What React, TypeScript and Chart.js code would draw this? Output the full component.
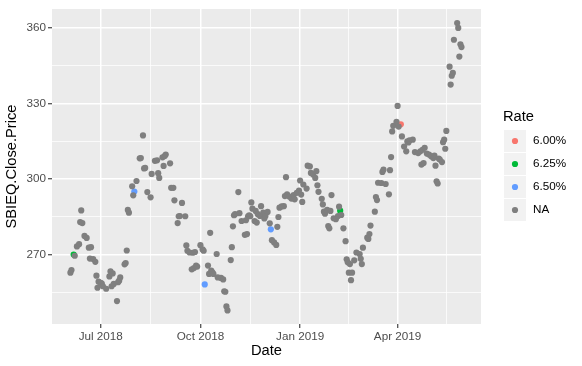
import React, { useEffect, useRef } from 'react';
import { Chart, registerables } from 'chart.js';

Chart.register(...registerables);

const dates: string[] = [
  '2018-06-03','2018-06-04','2018-06-06','2018-06-07','2018-06-09','2018-06-11','2018-06-12','2018-06-13','2018-06-14','2018-06-16',
  '2018-06-18','2018-06-20','2018-06-21','2018-06-22','2018-06-24','2018-06-26','2018-06-27','2018-06-28','2018-06-29','2018-07-01',
  '2018-07-02','2018-07-03','2018-07-06','2018-07-09','2018-07-10','2018-07-11','2018-07-12','2018-07-13','2018-07-16','2018-07-17',
  '2018-07-18','2018-07-19','2018-07-23','2018-07-24','2018-07-25','2018-07-26','2018-07-27','2018-07-30','2018-07-31','2018-08-01',
  '2018-08-03','2018-08-06','2018-08-07','2018-08-09','2018-08-10','2018-08-11','2018-08-13','2018-08-16','2018-08-17','2018-08-20',
  '2018-08-22','2018-08-23','2018-08-24','2018-08-27','2018-08-28','2018-08-29','2018-08-30','2018-09-03','2018-09-04','2018-09-06',
  '2018-09-07','2018-09-10','2018-09-11','2018-09-12','2018-09-14','2018-09-17','2018-09-18','2018-09-19','2018-09-21','2018-09-23',
  '2018-09-24','2018-09-25','2018-09-26','2018-09-27','2018-09-28','2018-10-01','2018-10-03','2018-10-04','2018-10-05','2018-10-08',
  '2018-10-09','2018-10-10','2018-10-11','2018-10-12','2018-10-13','2018-10-16','2018-10-17','2018-10-20','2018-10-22','2018-10-23',
  '2018-10-24','2018-10-25','2018-10-26','2018-10-29','2018-10-30','2018-10-31','2018-11-01','2018-11-02','2018-11-05','2018-11-06',
  '2018-11-08','2018-11-11','2018-11-12','2018-11-13','2018-11-14','2018-11-15','2018-11-16','2018-11-17','2018-11-18','2018-11-20',
  '2018-11-21','2018-11-22','2018-11-23','2018-11-25','2018-11-26','2018-11-28','2018-11-29','2018-11-30','2018-12-02','2018-12-04',
  '2018-12-05','2018-12-06','2018-12-08','2018-12-10','2018-12-11','2018-12-12','2018-12-13','2018-12-15','2018-12-17','2018-12-18',
  '2018-12-19','2018-12-20','2018-12-22','2018-12-24','2018-12-26','2018-12-27','2018-12-29','2018-12-31','2019-01-01','2019-01-02',
  '2019-01-03','2019-01-04','2019-01-07','2019-01-08','2019-01-10','2019-01-11','2019-01-13','2019-01-15','2019-01-16','2019-01-17',
  '2019-01-18','2019-01-21','2019-01-22','2019-01-23','2019-01-24','2019-01-26','2019-01-27','2019-01-28','2019-01-29','2019-01-30',
  '2019-02-01','2019-02-03','2019-02-05','2019-02-06','2019-02-07','2019-02-08','2019-02-10','2019-02-12','2019-02-13','2019-02-14',
  '2019-02-15','2019-02-16','2019-02-17','2019-02-18','2019-02-20','2019-02-22','2019-02-25','2019-02-26','2019-02-27','2019-02-28',
  '2019-03-04','2019-03-05','2019-03-06','2019-03-07','2019-03-11','2019-03-12','2019-03-13','2019-03-14','2019-03-17','2019-03-18',
  '2019-03-19','2019-03-21','2019-03-24','2019-03-25','2019-03-26','2019-03-27','2019-03-28','2019-03-31','2019-04-01','2019-04-02',
  '2019-04-04','2019-04-05','2019-04-07','2019-04-09','2019-04-10','2019-04-11','2019-04-12','2019-04-15','2019-04-17','2019-04-20',
  '2019-04-22','2019-04-23','2019-04-24','2019-04-25','2019-04-26','2019-04-28','2019-04-30','2019-05-02','2019-05-04','2019-05-05',
  '2019-05-06','2019-05-07','2019-05-08','2019-05-09','2019-05-10','2019-05-12','2019-05-13','2019-05-14','2019-05-15','2019-05-16',
  '2019-05-19','2019-05-20','2019-05-21','2019-05-22','2019-05-23','2019-05-26','2019-05-27','2019-05-28','2019-05-29','2019-05-30',
];

const closes: number[] = [
  262.9, 263.9, 270.1, 269.6, 273.3, 274.2, 283.0, 287.6, 282.6, 277.5,
  276.7, 272.8, 268.5, 273.0, 268.3, 267.2, 261.7, 256.9, 259.3, 258.8,
  258.5, 257.5, 256.5, 261.4, 263.4, 257.5, 262.6, 258.4, 251.6, 259.1,
  259.7, 261.0, 266.2, 266.7, 271.7, 287.8, 286.7, 297.2, 293.6, 295.1,
  299.3, 308.3, 308.4, 317.4, 304.3, 304.5, 294.9, 292.8, 302.1, 307.3,
  307.5, 302.4, 300.5, 308.7, 305.3, 309.2, 309.8, 306.3, 296.6, 296.6,
  291.6, 282.6, 285.3, 285.4, 290.6, 285.3, 273.7, 271.6, 270.9, 264.2,
  270.8, 264.7, 271.1, 265.7, 265.3, 273.8, 272.1, 271.6, 258.2, 265.7,
  262.4, 278.7, 263.7, 263.0, 262.4, 270.3, 261.0, 260.8, 260.2, 255.5,
  255.3, 249.5, 247.9, 267.9, 273.0, 281.3, 285.7, 286.1, 294.9, 286.5,
  283.4, 277.9, 283.7, 278.2, 285.3, 285.7, 285.3, 290.8, 288.3, 283.4,
  287.4, 282.8, 286.1, 285.4, 289.3, 286.7, 284.4, 285.4, 287.0, 282.5,
  280.1, 275.8, 274.9, 273.9, 281.1, 285.0, 288.7, 289.2, 289.3, 293.3,
  300.8, 294.0, 293.1, 292.3, 293.7, 292.0, 294.6, 295.5, 299.5, 293.9,
  291.0, 297.9, 296.3, 305.4, 305.1, 302.5, 301.9, 300.5, 303.2, 297.6,
  295.0, 292.2, 290.0, 287.1, 286.3, 287.8, 281.4, 280.5, 287.4, 293.7,
  284.5, 284.1, 285.4, 289.1, 287.5, 285.8, 280.5, 275.4, 268.2, 267.0,
  262.9, 266.3, 259.9, 262.9, 267.8, 270.9, 270.3, 268.4, 266.3, 272.8,
  276.8, 276.3, 278.2, 281.6, 287.1, 292.9, 291.7, 298.6, 298.5, 302.9,
  303.8, 298.1, 294.0, 303.6, 308.8, 319.0, 321.2, 322.8, 329.1, 320.9,
  321.8, 317.0, 313.0, 311.1, 315.0, 314.6, 315.4, 315.7, 310.8, 310.4,
  311.1, 305.8, 311.7, 306.4, 312.5, 310.2, 309.8, 309.1, 308.4, 309.4,
  305.4, 299.2, 298.3, 308.2, 307.8, 306.8, 314.7, 315.7, 312.1, 319.2,
  344.7, 337.6, 341.1, 342.2, 355.4, 362.0, 360.1, 348.7, 353.6, 352.5,
];

// policy-rate decision days (other days are NA)
const rateDates: string[] = ['2018-06-06', '2018-08-01', '2018-10-05', '2018-12-05', '2019-02-07', '2019-04-04'];
const rateLevels: string[] = ['6.25%', '6.50%', '6.50%', '6.50%', '6.25%', '6.00%'];

const legendLabels: string[] = ['6.00%', '6.25%', '6.50%', 'NA'];
const legendColors: string[] = ['#F8766D', '#00BA38', '#619CFF', '#7F7F7F'];

const xTickDates: string[] = ['2018-07-01', '2018-10-01', '2019-01-01', '2019-04-01'];
const xTickLabels: string[] = ['Jul 2018', 'Oct 2018', 'Jan 2019', 'Apr 2019'];
const xMinorDates: string[] = ['2018-08-16', '2018-11-16', '2019-02-15', '2019-05-16'];
const xRange: string[] = ['2018-05-17', '2019-06-17'];

const yTicks: number[] = [270, 300, 330, 360];
const yMinorTicks: number[] = [255, 285, 315, 345];
const yRange: number[] = [242.5, 367.6];

const FONT = '"Liberation Sans", Arial, Helvetica, sans-serif';
const ts = (s: string) => new Date(s + 'T00:00:00Z').getTime();

export default function App() {
  const ref = useRef<HTMLCanvasElement | null>(null);

  useEffect(() => {
    if (!ref.current) return;
    const majorX = xTickDates.map(ts);
    const minorX = xMinorDates.map(ts);

    const rateOf = (d: string) => {
      const i = rateDates.indexOf(d);
      return i >= 0 ? rateLevels[i] : 'NA';
    };
    const order = ['NA', '6.00%', '6.25%', '6.50%'];
    const datasets = order.map((lvl) => {
      const pts = dates
        .map((d, i) => ({ d, x: ts(d), y: closes[i] }))
        .filter((p) => rateOf(p.d) === lvl)
        .map((p) => ({ x: p.x, y: p.y }));
      const color = legendColors[legendLabels.indexOf(lvl)];
      return {
        type: 'scatter' as const,
        label: lvl,
        data: pts,
        backgroundColor: color,
        borderWidth: 0,
        pointRadius: 3.1,
        pointHoverRadius: 3.1,
        showLine: false,
      };
    });

    const bgPlugin = {
      id: 'bg',
      beforeDraw(chart: any) {
        const { ctx, chartArea } = chart;
        ctx.save();
        ctx.fillStyle = '#FFFFFF';
        ctx.fillRect(0, 0, chart.width, chart.height);
        ctx.fillStyle = '#EBEBEB';
        ctx.fillRect(chartArea.left, chartArea.top, chartArea.right - chartArea.left, chartArea.bottom - chartArea.top);
        ctx.restore();
      },
    };

    const legendPlugin = {
      id: 'ggLegend',
      afterDraw(chart: any) {
        const ctx = chart.ctx;
        ctx.save();
        ctx.textBaseline = 'middle';
        ctx.textAlign = 'left';
        ctx.fillStyle = '#000000';
        ctx.font = `14.7px ${FONT}`;
        ctx.fillText('Rate', 503, 117);
        legendLabels.forEach((lab, i) => {
          const cy = 141 + i * 23;
          ctx.fillStyle = '#F2F2F2';
          ctx.fillRect(504, cy - 11, 22, 22);
          ctx.fillStyle = legendColors[i];
          ctx.beginPath();
          ctx.arc(515, cy, 3.1, 0, Math.PI * 2);
          ctx.fill();
          ctx.fillStyle = '#000000';
          ctx.font = `11.7px ${FONT}`;
          ctx.fillText(lab, 533, cy);
        });
        ctx.restore();
      },
    };

    const chart = new Chart(ref.current, {
      type: 'scatter',
      data: { datasets },
      options: {
        animation: false,
        responsive: false,
        maintainAspectRatio: false,
        events: [],
        layout: { padding: { top: 7, right: 101, left: 0, bottom: 0 } },
        plugins: { legend: { display: false }, tooltip: { enabled: false } },
        scales: {
          x: {
            type: 'linear',
            min: ts(xRange[0]),
            max: ts(xRange[1]),
            afterBuildTicks: (s: any) => {
              s.ticks = [...majorX, ...minorX].sort((a, b) => a - b).map((v) => ({ value: v }));
            },
            afterFit: (s: any) => {
              s.height = 42;
            },
            ticks: {
              autoSkip: false,
              maxRotation: 0,
              minRotation: 0,
              padding: 2,
              color: '#4D4D4D',
              font: { family: FONT, size: 11.7 },
              callback: (v: any) => {
                const i = majorX.indexOf(Number(v));
                return i >= 0 ? xTickLabels[i] : '';
              },
            },
            grid: {
              color: '#FFFFFF',
              lineWidth: (c: any) => (c.tick && majorX.includes(c.tick.value) ? 1.5 : 0.75),
              tickColor: (c: any) => (c.tick && majorX.includes(c.tick.value) ? '#333333' : 'rgba(0,0,0,0)'),
              tickLength: 4,
              tickWidth: 1.1,
            },
            border: { display: false },
            title: {
              display: true,
              text: 'Date',
              color: '#000000',
              font: { family: FONT, size: 14.7 },
              padding: { top: 0, bottom: 6 },
            },
          },
          y: {
            type: 'linear',
            min: yRange[0],
            max: yRange[1],
            afterBuildTicks: (s: any) => {
              s.ticks = [...yTicks, ...yMinorTicks].sort((a, b) => a - b).map((v) => ({ value: v }));
            },
            afterFit: (s: any) => {
              s.width = 52;
            },
            ticks: {
              autoSkip: false,
              padding: 2,
              color: '#4D4D4D',
              font: { family: FONT, size: 11.7 },
              callback: (v: any) => (yTicks.includes(Number(v)) ? String(v) : ''),
            },
            grid: {
              color: '#FFFFFF',
              lineWidth: (c: any) => (c.tick && yTicks.includes(c.tick.value) ? 1.5 : 0.75),
              tickColor: (c: any) => (c.tick && yTicks.includes(c.tick.value) ? '#333333' : 'rgba(0,0,0,0)'),
              tickLength: 4,
              tickWidth: 1.1,
            },
            border: { display: false },
            title: {
              display: true,
              text: 'SBIEQ.Close.Price',
              color: '#000000',
              font: { family: FONT, size: 14.7 },
              padding: { top: 3, bottom: 0 },
            },
          },
        },
      } as any,
      plugins: [bgPlugin, legendPlugin],
    });

    return () => chart.destroy();
  }, []);

  return (
    <div style={{ position: 'absolute', left: 0, top: 0, width: 582, height: 366 }}>
      <canvas ref={ref} width={582} height={366} style={{ display: 'block', width: 582, height: 366 }} />
    </div>
  );
}
